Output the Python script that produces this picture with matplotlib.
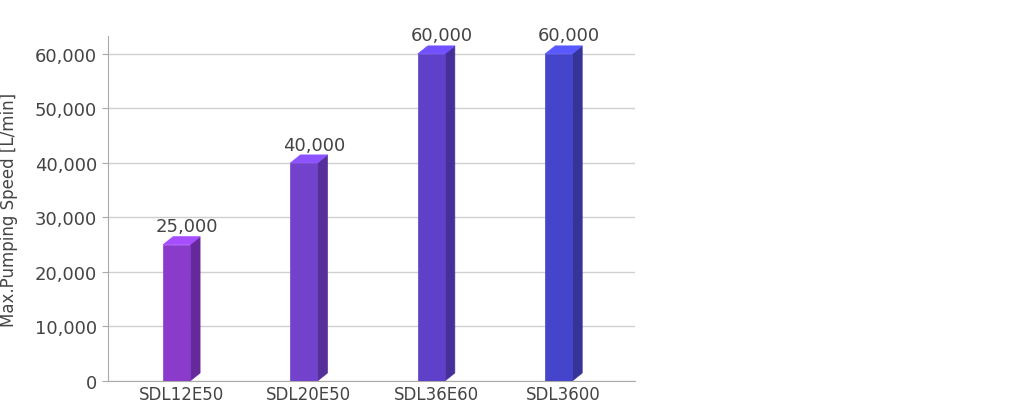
import numpy as np
import matplotlib
matplotlib.use("Agg")
from matplotlib import pyplot as plt
from matplotlib.patches import Polygon
from matplotlib.ticker import FuncFormatter

models = ["SDL12E50", "SDL20E50", "SDL36E60", "SDL3600"]
speeds = [25000, 40000, 60000, 60000]
front_cols = ["#8a3bcc", "#7342cc", "#5e40c9", "#4545cc"]
top_cols = ["#a64dff", "#8c52ff", "#7050ff", "#5a58ff"]
side_cols = ["#65299a", "#55309a", "#45309a", "#343499"]

fig = plt.figure(figsize=(10.24, 4.06), dpi=100)
ax = fig.add_axes([0.1055, 0.0591, 0.5146, 0.8500])

w = 0.212     # front face width
dx = 0.0786   # depth offset (x, data units)
dy = 1470     # depth offset (y, data units)

for i, (v, fc, tc, sc) in enumerate(zip(speeds, front_cols, top_cols, side_cols)):
    x0 = i - 0.145
    x1 = x0 + w
    ax.add_patch(Polygon([(x1, 0), (x1 + dx, dy), (x1 + dx, v + dy), (x1, v)],
                         closed=True, facecolor=sc, edgecolor=sc, linewidth=0.5, zorder=3))
    ax.add_patch(Polygon([(x0, v), (x1, v), (x1 + dx, v + dy), (x0 + dx, v + dy)],
                         closed=True, facecolor=tc, edgecolor=tc, linewidth=0.5, zorder=3))
    ax.add_patch(Polygon([(x0, 0), (x1, 0), (x1, v), (x0, v)], closed=True,
                         facecolor=fc, edgecolor=fc, linewidth=0.5, zorder=4))
    ax.annotate(f"{v:,}", (i + 0.04, v + dy), xytext=(0, 1), textcoords="offset points",
                ha="center", va="bottom", fontsize=13, color="#444444")

ax.set_xlim(-0.577, 3.56)
ax.set_ylim(0, 63300)
ax.set_yticks(np.arange(0, 60001, 10000))
ax.yaxis.set_major_formatter(FuncFormatter(lambda y, p: f"{int(y):,}"))
ax.set_xticks(range(len(models)))
ax.set_xticklabels(models)
ax.tick_params(axis="x", length=0, labelsize=12, labelcolor="#444444", pad=3)
ax.tick_params(axis="y", length=4, color="#aaaaaa", labelsize=13, labelcolor="#444444", pad=4)
ax.grid(axis="y", color="#d0d0d0", linewidth=1, zorder=0)
ax.set_axisbelow(True)
for s in ["top", "right"]:
    ax.spines[s].set_visible(False)
ax.spines["left"].set_color("#aaaaaa")
ax.spines["bottom"].set_color("#aaaaaa")
ax.set_ylabel("Max.Pumping Speed [L/min]", fontsize=12, color="#444444", labelpad=12)

fig.savefig("out.png", dpi=100)
